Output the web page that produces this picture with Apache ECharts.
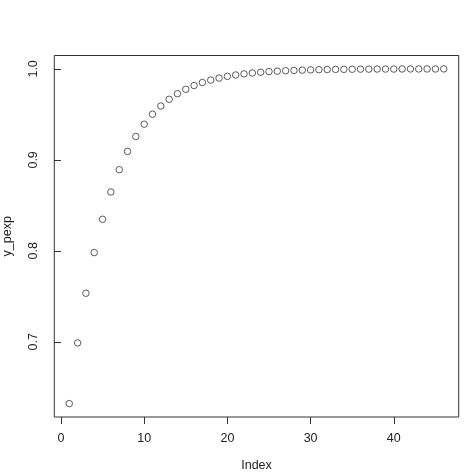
<!DOCTYPE html>
<html><head><meta charset="utf-8">
<script src="https://cdn.jsdelivr.net/npm/echarts@6/dist/echarts.min.js"></script>
<style>html,body{margin:0;padding:0;background:#fff}#c{width:474px;height:475px}</style>
</head><body><div id="c"></div>
<script>
const yPexp = [0.6321,0.6988,0.7534,0.7981,0.8347,0.8647,0.8892,0.9093,0.9257,0.9392,
0.9502,0.9592,0.9666,0.9727,0.9776,0.9817,0.9850,0.9877,0.9899,0.9918,
0.9933,0.9945,0.9955,0.9963,0.9970,0.9975,0.9980,0.9983,0.9986,0.9989,
0.9991,0.9993,0.9994,0.9995,0.9996,0.9997,0.9997,0.9998,0.9998,0.9998,
0.9999,0.9999,0.9999,0.9999,0.9999,1.0000];
const xTicks = [0,10,20,30,40];
const yTicks = [0.7,0.8,0.9,1.0];
const data = yPexp.map((v,i)=>[i+1,v]);
const font = 'Liberation Sans, Arial, sans-serif';
const chart = echarts.init(document.getElementById('c'));
chart.setOption({
  animation:false,
  grid:{left:54.3,top:55.5,width:404.4,height:361.5,show:true,borderColor:'#333',borderWidth:1,backgroundColor:'transparent',
    containLabel:false,outerBoundsMode:'none'},
  xAxis:{type:'value',min:-0.8,max:47.8,
    name:'Index',nameLocation:'middle',nameGap:42,nameTextStyle:{color:'#222',fontSize:12.5,fontFamily:font},
    axisLine:{show:false},splitLine:{show:false},
    axisTick:{show:true,inside:false,length:7,lineStyle:{color:'#333'},customValues:xTicks},
    axisLabel:{color:'#222',fontSize:12.5,fontFamily:font,margin:15,customValues:xTicks}},
  yAxis:{type:'value',min:0.6174,max:1.0147,
    name:'y_pexp',nameLocation:'middle',nameGap:40,nameTextStyle:{color:'#222',fontSize:12.5,fontFamily:font},
    axisLine:{show:false},splitLine:{show:false},
    axisTick:{show:true,inside:false,length:7,lineStyle:{color:'#333'},customValues:yTicks},
    axisLabel:{color:'#222',fontSize:12.5,fontFamily:font,margin:14,rotate:90,customValues:yTicks,formatter:v=>v.toFixed(1)}},
  series:[{type:'scatter',data:data,symbol:'circle',symbolSize:6.5,
    itemStyle:{color:'transparent',borderColor:'#333',borderWidth:1}}]
});
</script></body></html>
